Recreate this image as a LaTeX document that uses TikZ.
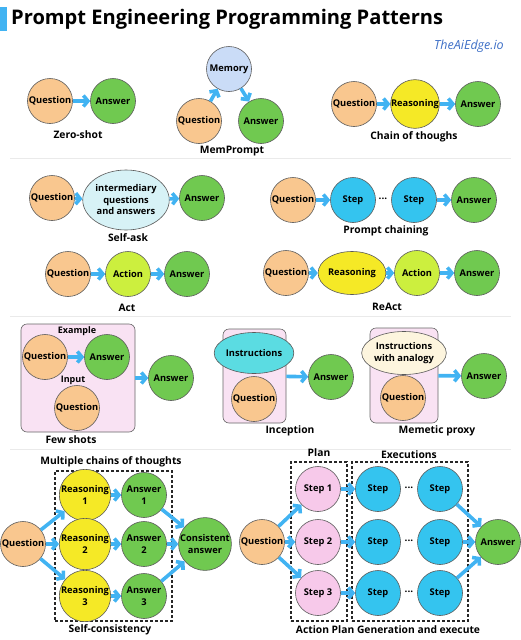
\documentclass[tikz,border=0pt]{standalone}
\usepackage{fontspec}
\setmainfont{Open Sans}
\usetikzlibrary{arrows.meta,shapes.geometric}

\definecolor{qfill}{HTML}{F9C78F}
\definecolor{afill}{HTML}{70C950}
\definecolor{rfill}{HTML}{F5E926}
\definecolor{actfill}{HTML}{CCEF3E}
\definecolor{stepfill}{HTML}{34C4EF}
\definecolor{memfill}{HTML}{CADCF7}
\definecolor{interfill}{HTML}{D7F2F6}
\definecolor{instfill}{HTML}{5BDCE2}
\definecolor{analfill}{HTML}{FDF5DE}
\definecolor{planfill}{HTML}{F7C9EA}
\definecolor{boxfill}{HTML}{F9E2F3}
\definecolor{arrblue}{HTML}{41B3F2}
\definecolor{sepgray}{HTML}{EAEAEA}
\definecolor{sitecol}{HTML}{3C6EC6}

\begin{document}
\begin{tikzpicture}[x=1pt,y=-1pt]
        \tikzstyle{bub}=[circle, draw=black!65, line width=0.6pt, minimum size=45pt, inner sep=0pt, align=center, font=\bfseries\fontsize{9.3}{11.5}\selectfont]
        \tikzstyle{oval}=[bub, ellipse]
        \tikzstyle{ques}=[bub, fill=qfill]
        \tikzstyle{ans}=[bub, fill=afill]
        \tikzstyle{reas}=[bub, fill=rfill]
        \tikzstyle{act}=[bub, fill=actfill]
        \tikzstyle{stp}=[bub, fill=stepfill]
        \tikzstyle{plan}=[bub, fill=planfill]
        \tikzstyle{pinkbox}=[draw=black!60, fill=boxfill, line width=0.6pt, rounded corners=6pt]
        \tikzstyle{dbox}=[draw=black!85, line width=1.1pt, dash pattern=on 3pt off 2pt]
        \tikzstyle{lbl}=[font=\bfseries\fontsize{10.3}{12}\selectfont]
        \tikzstyle{sub}=[font=\bfseries\fontsize{9}{10}\selectfont]
        \tikzstyle{dots}=[font=\bfseries\fontsize{10}{10}\selectfont]
        \tikzstyle{arr}=[draw=arrblue, line width=3.6pt, -{Straight Barb[length=4.5pt,width=11pt]}]
        \tikzstyle{sep}=[draw=sepgray, line width=1pt]

        \useasboundingbox (0,0) rectangle (521,640);

        \fill[arrblue] (0,7) rectangle (7,31);
        \node[anchor=west, inner sep=0pt, font=\bfseries\fontsize{20.1}{24}\selectfont] (title) at (11,19) {Prompt Engineering Programming Patterns};
        \node[text=sitecol, font=\itshape\fontsize{12.5}{14}\selectfont] (site) at (469,46) {TheAiEdge.io};

        \draw[sep] (10,158) -- (511,158);
        \draw[sep] (10,316) -- (511,316);
        \draw[sep] (10,449) -- (511,449);

        \node[ques] (zq) at (50,101) {Question};
        \node[ans] (za) at (113,101) {Answer};
        \draw[arr] (zq) -- (za);
        \node[lbl] (zl) at (78,135) {Zero-shot};

        \node[bub, fill=memfill] (mm) at (229,69) {Memory};
        \node[ques] (mq) at (199,121) {Question};
        \node[ans] (ma) at (261,121) {Answer};
        \draw[arr] (mq) -- (mm);
        \draw[arr] (mm) -- (ma);
        \node[lbl] (ml) at (232,151) {MemPrompt};

        \node[ques] (cq) at (354,104) {Question};
        \node[reas] (cr) at (415,104) {Reasoning};
        \node[ans] (ca) at (478,104) {Answer};
        \draw[arr] (cq) -- (cr);
        \draw[arr] (cr) -- (ca);
        \node[lbl] (cl) at (414,137) {Chain of thoughs};

        \node[ques] (sq) at (52,198) {Question};
        \node[oval, fill=interfill, minimum width=72pt, minimum height=60pt] (si) at (126,200) {intermediary\\questions\\and answers};
        \node[ans] (sa) at (202,198) {Answer};
        \draw[arr] (sq) -- (si);
        \draw[arr] (si) -- (sa);
        \node[lbl] (sl) at (128,238) {Self-ask};

        \node[ques] (pq) at (293,200) {Question};
        \node[stp] (ps1) at (353,200) {Step};
        \node[dots] (pd) at (383,199) {...};
        \node[stp] (ps2) at (414,200) {Step};
        \node[ans] (pa) at (474,200) {Answer};
        \draw[arr] (pq) -- (ps1);
        \draw[arr] (ps2) -- (pa);
        \node[lbl] (pl) at (386,231) {Prompt chaining};

        \node[ques] (tq) at (68,274) {Question};
        \node[act] (tc) at (128,274) {Action};
        \node[ans] (ta) at (187,274) {Answer};
        \draw[arr] (tq) -- (tc);
        \draw[arr] (tc) -- (ta);
        \node[lbl] (tl) at (127,308) {Act};

        \node[ques] (rq) at (286,273) {Question};
        \node[oval, fill=rfill, minimum width=53pt, minimum height=43pt] (rr) at (352,273) {Reasoning};
        \node[act] (rc) at (417,273) {Action};
        \node[ans] (ra) at (477,273) {Answer};
        \draw[arr] (rq) -- (rr);
        \draw[arr] (rr) -- (rc);
        \draw[arr] (rc) -- (ra);
        \node[lbl] (rl) at (387,307) {ReAct};

        \node[pinkbox, minimum width=114pt, minimum height=108pt] (fb) at (78,378) {};
        \node[sub] (fex) at (77,331) {Example};
        \node[ques] (fq1) at (45,357) {Question};
        \node[ans] (fa1) at (107,357) {Answer};
        \draw[arr] (fq1) -- (fa1);
        \node[sub] (fin) at (73,380) {Input};
        \node[ques] (fq2) at (77,408) {Question};
        \node[ans] (fa) at (171,378) {Answer};
        \draw[arr] (fb) -- (fa);
        \node[lbl] (fl) at (71,440) {Few shots};

        \node[pinkbox, minimum width=63pt, minimum height=94pt] (ib) at (254.5,376) {};
        \node[oval, fill=instfill, minimum width=57pt, minimum height=41pt] (ii) at (254,353) {Instructions};
        \node[ques] (iq) at (254,399) {Question};
        \node[ans] (ia) at (331,377) {Answer};
        \draw[arr] (ib) -- (ia);
        \node[lbl] (il) at (290,431) {Inception};

        \node[pinkbox, minimum width=68pt, minimum height=95pt] (xb) at (404,375.5) {};
        \node[oval, fill=analfill, minimum width=64pt, minimum height=43pt] (xi) at (404,353) {Instructions\\with analogy};
        \node[ques] (xq) at (403,398) {Question};
        \node[ans] (xa) at (484,376) {Answer};
        \draw[arr] (xb) -- (xa);
        \node[lbl] (xl) at (437,431) {Memetic proxy};

        \node[lbl] (kt) at (111,462) {Multiple chains of thoughts};
        \node[dbox, minimum width=117pt, minimum height=150pt] (kb) at (113.5,546) {};
        \node[ques] (kq) at (23,544) {Question};
        \node[reas, minimum width=49pt] (kr1) at (85,495) {Reasoning\\1};
        \node[reas, minimum width=49pt] (kr2) at (85,544) {Reasoning\\2};
        \node[reas, minimum width=49pt] (kr3) at (85,596) {Reasoning\\3};
        \node[ans] (ka1) at (144,495) {Answer\\1};
        \node[ans] (ka2) at (144,544) {Answer\\2};
        \node[ans] (ka3) at (144,596) {Answer\\3};
        \node[ans, minimum size=50pt] (kc) at (205,544) {Consistent\\answer};
        \draw[arr] (kq) -- (kr1);
        \draw[arr] (kq) -- (kr2);
        \draw[arr] (kq) -- (kr3);
        \draw[arr] (kr1) -- (ka1);
        \draw[arr] (kr2) -- (ka2);
        \draw[arr] (kr3) -- (ka3);
        \draw[arr] (ka1) -- (kc);
        \draw[arr] (ka2) -- (kc);
        \draw[arr] (ka3) -- (kc);
        \node[lbl] (kl) at (110,630) {Self-consistency};

        \node[lbl] (gpt) at (319,453) {Plan};
        \node[dbox, minimum width=56pt, minimum height=159pt] (gpb) at (319,541.5) {};
        \node[lbl] (get) at (409,455) {Executions};
        \node[dbox, minimum width=116pt, minimum height=159pt] (geb) at (410,541.5) {};
        \node[ques] (gq) at (262,542) {Question};
        \node[plan] (gs1) at (318,489) {Step 1};
        \node[plan] (gs2) at (318,542) {Step 2};
        \node[plan] (gs3) at (318,593) {Step 3};
        \node[stp] (ge11) at (378,489) {Step};
        \node[dots] (gd1) at (409,488) {...};
        \node[stp] (ge12) at (440,489) {Step};
        \node[stp] (ge21) at (378,542) {Step};
        \node[dots] (gd2) at (409,541) {...};
        \node[stp] (ge22) at (440,542) {Step};
        \node[stp] (ge31) at (378,593) {Step};
        \node[dots] (gd3) at (409,592) {...};
        \node[stp] (ge32) at (440,593) {Step};
        \node[ans] (ga) at (498,542) {Answer};
        \draw[arr] (gq) -- (gs1);
        \draw[arr] (gq) -- (gs2);
        \draw[arr] (gq) -- (gs3);
        \draw[arr] (gs1) -- (ge11);
        \draw[arr] (gs2) -- (ge21);
        \draw[arr] (gs3) -- (ge31);
        \draw[arr] (ge12) -- (ga);
        \draw[arr] (ge22) -- (ga);
        \draw[arr] (ge32) -- (ga);
        \node[lbl] (gl) at (388,630) {Action Plan Generation and execute};
    \end{tikzpicture}
\end{document}
